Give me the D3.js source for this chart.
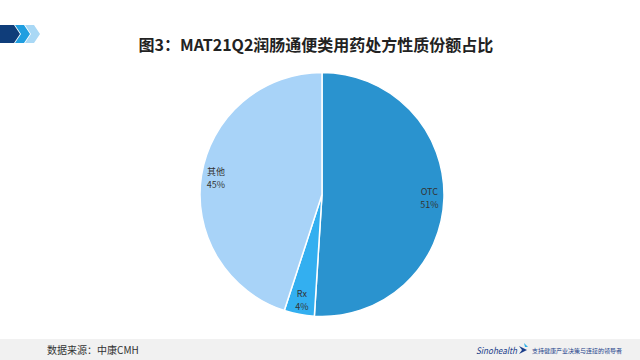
<!DOCTYPE html>
<html><head><meta charset="utf-8">
<script src="https://cdn.jsdelivr.net/npm/d3@7"></script>
<style>html,body{margin:0;padding:0;background:#fff;}svg{display:block;}</style>
</head><body>
<svg id="c" width="640" height="360"></svg>
<script>
const categories = ["OTC", "Rx", "其他"];
const values = [51, 4, 45];
const labels = ["51%", "4%", "45%"];
const colors = ["#2a93cf", "#33aff0", "#a8d3f8"];

const svg = d3.select("#c");
const font = "'Noto Sans CJK SC','Microsoft YaHei',sans-serif";

// header chevrons
svg.append("path").attr("d","M0,25 L14,25 L20,34 L14,43 L0,43 Z").attr("fill","#0f3d7a");
svg.append("path").attr("d","M15,25 L24,25 L30,34 L24,43 L15,43 L21,34 Z").attr("fill","#1f9ee0");
svg.append("path").attr("d","M25,25 L34,25 L40,34 L34,43 L25,43 L31,34 Z").attr("fill","#a9d8f5");

svg.append("text").attr("x",316).attr("y",51).attr("text-anchor","middle")
  .attr("font-family",font).attr("font-weight","bold").attr("font-size",16).attr("fill","#222")
  .text("图3：MAT21Q2润肠通便类用药处方性质份额占比");

const cx = 322, cy = 194.5, r = 122;
const pie = d3.pie().sort(null).value(d => d.v);
const data = pie(categories.map((c,i)=>({c, v: values[i], l: labels[i], col: colors[i]})));
const arc = d3.arc().innerRadius(0).outerRadius(r);
const g = svg.append("g").attr("transform",`translate(${cx},${cy})`);
g.selectAll("path").data(data).join("path")
  .attr("d", arc).attr("fill", d=>d.data.col).attr("stroke","#fff").attr("stroke-width",1.5);

const la = d3.arc().innerRadius(r*0.88).outerRadius(r*0.88);
const lg = g.selectAll("g.lab").data(data).join("g").attr("class","lab")
  .attr("transform", d => `translate(${la.centroid(d)})`);
lg.append("text").attr("text-anchor","middle").attr("y",-3)
  .attr("font-family",font).attr("font-size",9).attr("fill","#333").text(d=>d.data.c);
lg.append("text").attr("text-anchor","middle").attr("y",10)
  .attr("font-family",font).attr("font-size",9).attr("fill","#333").text(d=>d.data.l);

// footer
svg.append("rect").attr("x",0).attr("y",339).attr("width",640).attr("height",21).attr("fill","#f1f1f1");
svg.append("text").attr("x",47).attr("y",354).attr("font-family",font).attr("font-size",10).attr("fill","#333")
  .text("数据来源：中康CMH");
svg.append("text").attr("x",476).attr("y",354).attr("font-family",font).attr("font-size",9)
  .attr("fill","#1c3f8a").attr("font-style","italic")
  .attr("textLength",41).attr("lengthAdjust","spacingAndGlyphs").text("Sinohealth");
svg.append("path").attr("d","M519,346 L527,350 L519,354 L522,350 Z").attr("fill","#1c3f8a");
svg.append("path").attr("d","M524,343 L528,347 L525,347 Z").attr("fill","#2fb0e8");
svg.append("text").attr("x",532).attr("y",353).attr("font-family",font).attr("font-size",6)
  .attr("fill","#1c3f8a").attr("textLength",90).attr("lengthAdjust","spacingAndGlyphs")
  .text("支持健康产业决策与连接的领导者");
</script>
</body></html>
